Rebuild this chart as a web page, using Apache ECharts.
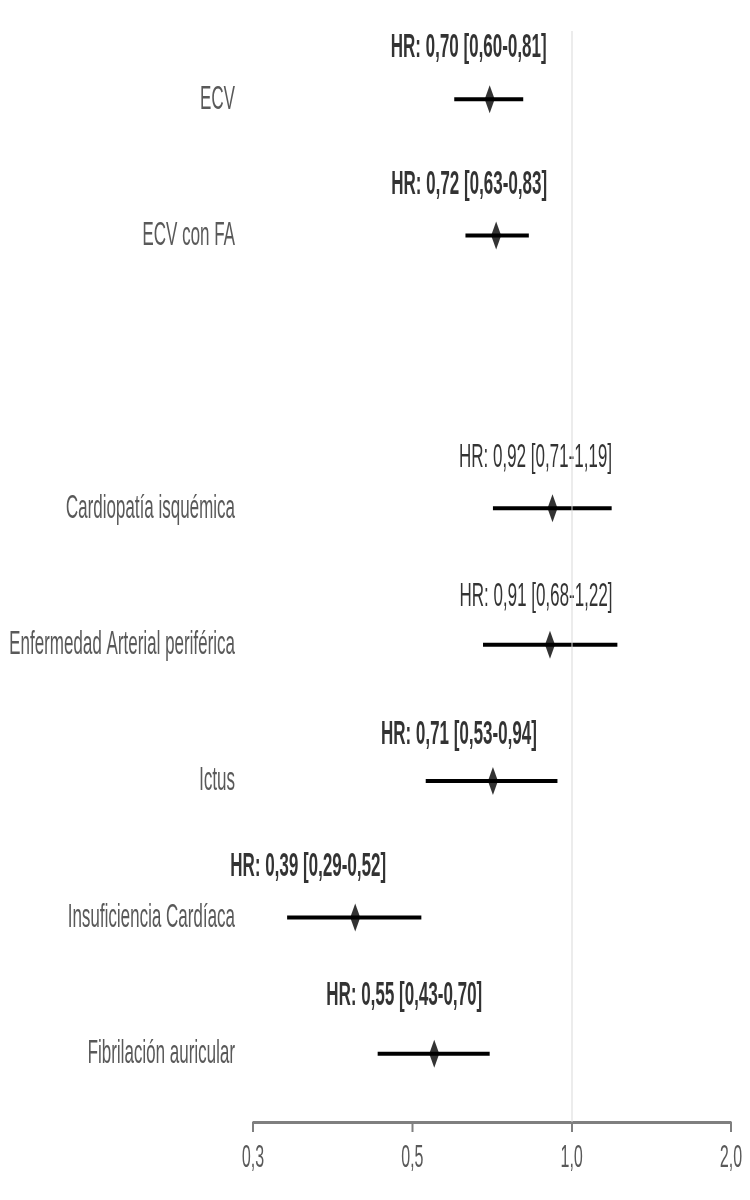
<!DOCTYPE html>
<html><head><meta charset="utf-8">
<script src="https://cdn.jsdelivr.net/npm/echarts@6/dist/echarts.min.js"></script>
<style>
html,body{margin:0;padding:0;background:#fff;overflow:hidden;width:750px;height:1200px}
#chart{width:1500px;height:1200px;transform:scaleX(0.5);transform-origin:0 0}
</style></head><body><div id="chart"></div>
<script>
// ---- data ----
const categories = ['ECV','ECV con FA','','Cardiopatía isquémica','Enfermedad Arterial periférica','Ictus','Insuficiencia Cardíaca','Fibrilación auricular'];
const hr    = [0.70, 0.72, null, 0.92, 0.91, 0.71, 0.39, 0.55];
const lower = [0.60, 0.63, null, 0.71, 0.68, 0.53, 0.29, 0.43];
const upper = [0.81, 0.83, null, 1.19, 1.22, 0.94, 0.52, 0.70];
const xMin = 0.25, xMax = 2, refLine = 1;

// ---- styles ----
const SX = 0.5; // horizontal compression of the whole picture
const labelShift = [[-21,-52],[-27,-51],[0,0],[-17,-51],[-14,-48],[-34,-46],[-47,-51],[-30,-58]];
const fmt = v => v.toFixed(2).replace('.', ',');

const chart = echarts.init(document.getElementById('chart'));

const barData = [], pointData = [];
categories.forEach((c, i) => {
  if (hr[i] == null) return;
  barData.push([lower[i], upper[i], i]);
  const sig = upper[i] < 1;
  pointData.push({
    value: [hr[i], i],
    label: {
      show: true,
      position: 'inside',
      offset: [labelShift[i][0] / SX, labelShift[i][1]],
      formatter: 'HR: ' + fmt(hr[i]) + ' [' + fmt(lower[i]) + '-' + fmt(upper[i]) + ']',
      fontFamily: 'Liberation Sans',
      fontWeight: sig ? 'bold' : 'normal',
      fontSize: 34,
      color: '#000000'
    }
  });
});

chart.setOption({
  animation: false,
  backgroundColor: '#ffffff',
  grid: { left: 506, right: 38, top: 31, bottom: 78, containLabel: false },
  xAxis: {
    type: 'log', logBase: 2, min: xMin, max: xMax,
    splitLine: { show: false },
    axisLine: { show: true, lineStyle: { color: '#7f7f7f', width: 3 } },
    axisTick: { show: true, length: 10, lineStyle: { color: '#7f7f7f', width: 4 } },
    axisLabel: {
      formatter: v => Number(v).toFixed(1).replace('.', ','),
      fontFamily: 'Liberation Sans', fontSize: 32, color: '#595959', margin: 20,
      showMinLabel: true, showMaxLabel: true
    }
  },
  yAxis: {
    type: 'category', data: categories, inverse: true,
    axisLine: { show: false }, axisTick: { show: false }, splitLine: { show: false },
    axisLabel: { fontFamily: 'Liberation Sans', fontSize: 34, color: '#595959', margin: 36 }
  },
  series: [
    {
      type: 'custom', z: 2,
      encode: { x: [0, 1], y: 2 },
      data: barData,
      renderItem: (params, api) => {
        const a = api.coord([api.value(0), api.value(2)]);
        const b = api.coord([api.value(1), api.value(2)]);
        return { type: 'line', shape: { x1: a[0], y1: a[1], x2: b[0], y2: b[1] },
                 style: { stroke: '#000000', lineWidth: 4 } };
      }
    },
    {
      type: 'scatter', z: 3,
      symbol: 'diamond', symbolSize: [20, 28],
      itemStyle: { color: '#000000' },
      data: pointData,
      markLine: {
        silent: true, symbol: 'none', label: { show: false },
        lineStyle: { color: '#d9d9d9', width: 2, type: 'solid' },
        data: [{ xAxis: refLine }]
      }
    }
  ]
});
</script></body></html>
